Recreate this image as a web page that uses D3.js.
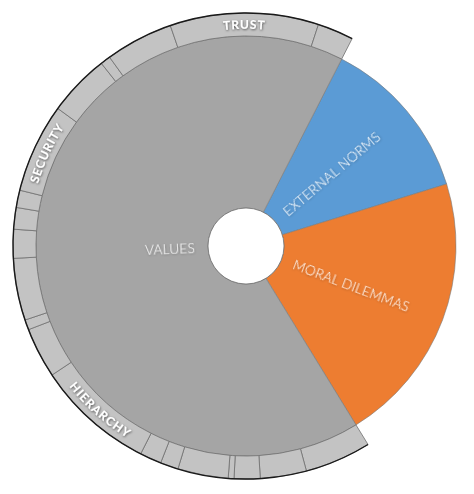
<!DOCTYPE html>
<html>
<head>
<meta charset="utf-8">
<script src="https://cdn.jsdelivr.net/npm/d3@7"></script>
<style>
  body { margin: 0; background: #fff; }
  svg { display: block; }
</style>
</head>
<body>
<svg id="wheel" width="474" height="494"></svg>
<script>
// main slices, in drawing order (clockwise from the blue/gray edge)
var sliceNames = ["EXTERNAL NORMS", "MORAL DILEMMAS", "VALUES"];
var sliceValues = [12.7, 21.0, 66.3];
var sliceColors = ["#5b9bd5", "#ed7d31", "#a5a5a5"];

// sub-parts of VALUES, shown in the outer ring (clockwise from the bottom)
var ringValues = [4.6, 3.2, 1.8, 0.4, 3.5, 1.25, 1.5, 8.2, 3.5, 0.7, 4.3,
                  2.0, 1.5, 1.2, 6.2, 4.3, 0.7, 4.7, 10.3, 2.5];
var ringLabels = ["", "", "", "", "", "", "", "HIERARCHY", "", "", "",
                  "", "", "", "SECURITY", "", "", "", "TRUST", ""];

function drawWheel() {
    var svg = d3.select("svg#wheel"),
        cx = 246,
        cy = 246,
        holeR = 38,
        pieR = 210,
        ringR = 233,
        startDeg = 27.1;

    var g = svg
        .append("g")
        .attr("transform", "translate(" + cx + "," + cy + ")");

    var defs = svg.append("defs");
    var shadow = defs.append("filter").attr("id", "shadow")
        .attr("x", "-20%").attr("y", "-50%").attr("width", "140%").attr("height", "200%");
    shadow.append("feDropShadow")
        .attr("dx", 0.5).attr("dy", 1)
        .attr("stdDeviation", 1)
        .attr("flood-color", "#000")
        .attr("flood-opacity", 0.6);
    var soft = defs.append("filter").attr("id", "soft")
        .attr("x", "-20%").attr("y", "-50%").attr("width", "140%").attr("height", "200%");
    soft.append("feDropShadow")
        .attr("dx", 0.5).attr("dy", 0.8)
        .attr("stdDeviation", 0.8)
        .attr("flood-color", "#000")
        .attr("flood-opacity", 0.35);

    var pie = d3.pie()
        .sort(null)
        .startAngle(startDeg * Math.PI / 180)
        .endAngle(startDeg * Math.PI / 180 + 2 * Math.PI);

    var slices = pie(sliceValues);
    var arc = d3.arc().innerRadius(holeR).outerRadius(pieR);

    g.append("g")
        .selectAll("path")
        .data(slices)
        .enter()
        .append("path")
        .attr("d", arc)
        .attr("fill", (d, i) => sliceColors[i])
        .attr("stroke", "#7a7a7a")
        .attr("stroke-width", 0.6);

    // outer ring spans the VALUES slice only
    var valuesSlice = slices[2];
    var ringPie = d3.pie()
        .sort(null)
        .startAngle(valuesSlice.startAngle)
        .endAngle(valuesSlice.endAngle);
    var ring = ringPie(ringValues);
    var ringArc = d3.arc().innerRadius(pieR).outerRadius(ringR);

    g.append("g")
        .selectAll("path")
        .data(ring)
        .enter()
        .append("path")
        .attr("d", ringArc)
        .attr("fill", "#c3c3c3")
        .attr("stroke", "#6e6e6e")
        .attr("stroke-width", 0.8);

    // dark outer rim
    g.append("path")
        .attr("d", d3.arc()({
            innerRadius: ringR,
            outerRadius: ringR,
            startAngle: valuesSlice.startAngle,
            endAngle: valuesSlice.endAngle
        }))
        .attr("fill", "none")
        .attr("stroke", "#1a1a1a")
        .attr("stroke-width", 1.4);

    // hole
    g.append("circle")
        .attr("r", holeR)
        .attr("fill", "#fff")
        .attr("stroke", "#6e6e6e")
        .attr("stroke-width", 0.8);

    // ring labels on arcs
    var midR = (pieR + ringR) / 2;
    function arcPath(a0, a1, r, flip) {
        var p0 = [r * Math.sin(a0), -r * Math.cos(a0)],
            p1 = [r * Math.sin(a1), -r * Math.cos(a1)];
        if (flip) {
            return "M" + p1[0] + "," + p1[1] + "A" + r + "," + r + " 0 0 0 " + p0[0] + "," + p0[1];
        }
        return "M" + p0[0] + "," + p0[1] + "A" + r + "," + r + " 0 0 1 " + p1[0] + "," + p1[1];
    }

    ring.forEach(function(d, i) {
        if (!ringLabels[i]) return;
        var mid = (d.startAngle + d.endAngle) / 2;
        var m = ((mid % (2 * Math.PI)) + 2 * Math.PI) % (2 * Math.PI);
        var flip = m > Math.PI / 2 && m < 3 * Math.PI / 2;
        var id = "ringpath" + i;
        defs.append("path")
            .attr("id", id)
            .attr("d", arcPath(d.startAngle - 0.3, d.endAngle + 0.3, midR, flip));
        g.append("text")
            .attr("font-family", "Lato")
            .attr("font-weight", "bold")
            .attr("font-size", "12px")
            .attr("letter-spacing", "1px")
            .attr("fill", "#fff")
            .attr("dy", "0.36em")
            .attr("filter", "url(#shadow)")
            .append("textPath")
            .attr("href", "#" + id)
            .attr("startOffset", "50%")
            .attr("text-anchor", "middle")
            .text(ringLabels[i]);
    });

    // slice labels, radial, starting just outside the hole
    var labelR = 51;
    g.append("g")
        .selectAll("text")
        .data(slices)
        .enter()
        .append("text")
        .attr("transform", function(d) {
            var mid = (d.startAngle + d.endAngle) / 2;
            var rot = mid * 180 / Math.PI - 90;
            var flip = Math.cos(mid - Math.PI / 2) < 0;
            if (flip) rot -= 180;
            return "translate(" + labelR * Math.sin(mid) + "," + (-labelR * Math.cos(mid)) + ") rotate(" + rot + ")";
        })
        .attr("text-anchor", function(d) {
            var mid = (d.startAngle + d.endAngle) / 2;
            return Math.cos(mid - Math.PI / 2) < 0 ? "end" : "start";
        })
        .attr("dy", "0.36em")
        .attr("font-family", "Lato")
        .attr("font-weight", 300)
        .attr("font-size", "13.5px")
        .attr("letter-spacing", "0.3px")
        .attr("fill", "#fff")
        .attr("filter", "url(#soft)")
        .text((d, i) => sliceNames[i]);
}

drawWheel();
</script>
</body>
</html>
